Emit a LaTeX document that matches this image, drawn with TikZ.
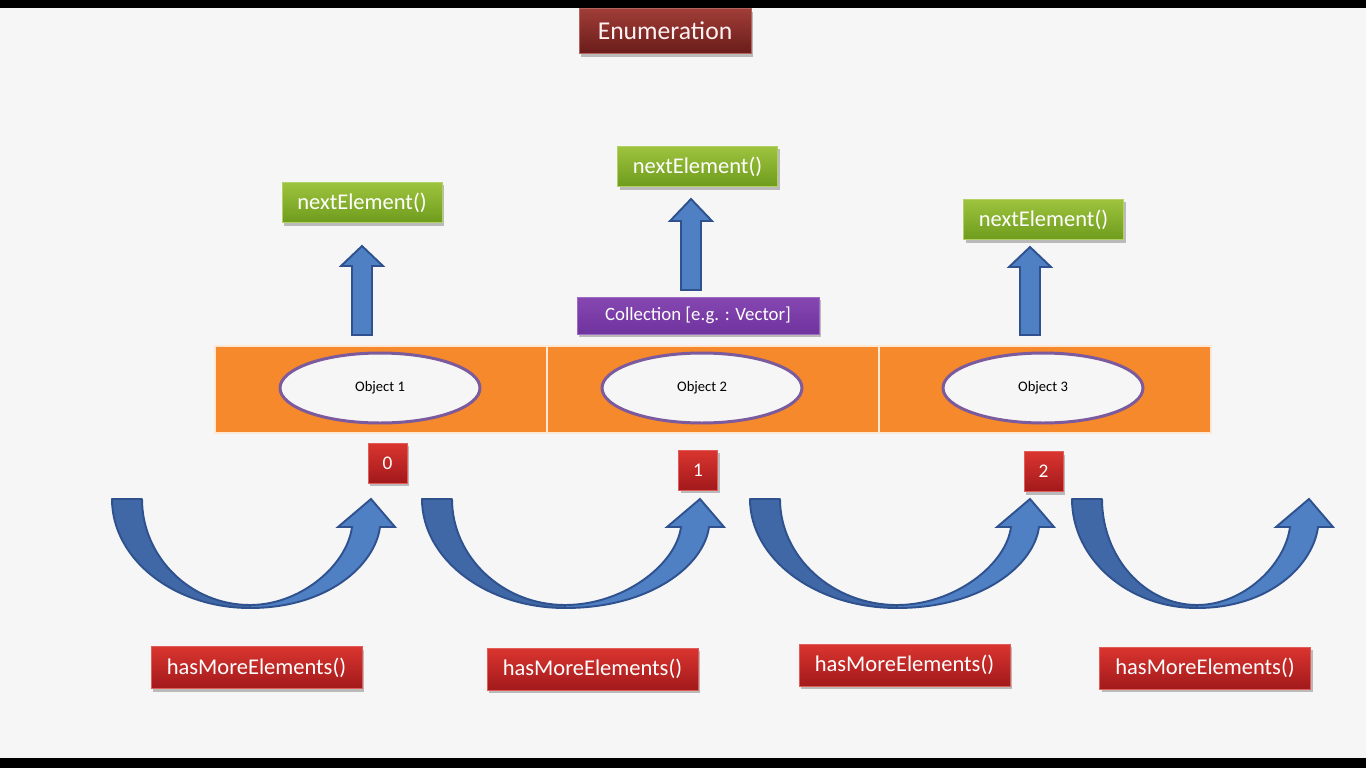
\documentclass[tikz,border=0pt]{standalone}
\usepackage{fontspec}
\setmainfont{Carlito}
\usetikzlibrary{shadows,shapes.geometric}
\definecolor{bgc}{HTML}{F6F6F6}
\definecolor{enumT}{HTML}{A03D37}
\definecolor{enumB}{HTML}{6A1C1A}
\definecolor{greenT}{HTML}{9EC43E}
\definecolor{greenB}{HTML}{6E9B1D}
\definecolor{redT}{HTML}{DA352F}
\definecolor{redB}{HTML}{A2191B}
\definecolor{purT}{HTML}{8647B1}
\definecolor{purB}{HTML}{6F339F}
\definecolor{orangeC}{HTML}{F6892B}
\definecolor{ellC}{HTML}{7B5A9E}
\definecolor{blueF}{HTML}{4F80C4}
\definecolor{blueD}{HTML}{4067A6}
\definecolor{blueL}{HTML}{2F528F}
\newcommand\blueCurve[3]{% tail-left x, bottom x, tip x
  \draw[carmback] (#1,499) -- ({#1+30},499)
    .. controls ({#1+30},557) and ({#2-0.552*(#2-#1-30)},605) .. (#2,605)
    -- (#2,608)
    .. controls ({#2-0.552*(#2-#1)},608) and (#1,559) .. (#1,499) -- cycle;
  \draw[carmfront] (#2,608)
    .. controls ({#2+0.6*(#3+9-#2)},608) and ({#3+4},565) .. ({#3+9},527)
    -- ({#3+24},527) -- (#3,499) -- ({#3-33},527) -- ({#3-19},527)
    .. controls ({#3-24},565) and ({#2+0.5*(#3-19-#2)},605) .. (#2,605) -- cycle;
}
\newcommand\blueUp[4]{% x, tip y, head base y, bottom y
  \draw[uparr] ({#1-10},#4) -- ({#1-10},#3) -- ({#1-21},#3) -- (#1,#2)
    -- ({#1+21},#3) -- ({#1+10},#3) -- ({#1+10},#4) -- cycle;
}
\begin{document}
\begin{tikzpicture}[x=0.02cm,y=-0.02cm,
  shadowed/.style={drop shadow={shadow xshift=1.2pt,shadow yshift=-1.8pt,opacity=0.35,fill=black!70}},
  boxbase/.style={rectangle,inner sep=0pt,shadowed,text=white},
  enumbox/.style={boxbase,top color=enumT,bottom color=enumB,draw=enumT!80!white,line width=0.4pt,
     minimum width=3.44cm,minimum height=0.9cm,text=white!95!red,font=\fontsize{14.6}{17}\selectfont},
  nextbox/.style={boxbase,top color=greenT,bottom color=greenB,draw=greenT!80!white,line width=0.4pt,
     minimum width=3.2cm,minimum height=0.81cm,font=\fontsize{12.8}{15}\selectfont},
  hasbox/.style={boxbase,top color=redT,bottom color=redB,draw=redT!80!white,line width=0.4pt,
     minimum width=4.22cm,minimum height=0.84cm,font=\fontsize{12.8}{15}\selectfont},
  idxbox/.style={boxbase,top color=redT,bottom color=redB,draw=redT!80!white,line width=0.4pt,
     minimum width=0.78cm,minimum height=0.8cm,font=\fontsize{11}{13}\selectfont},
  collbox/.style={boxbase,top color=purT,bottom color=purB,draw=purT!80!white,line width=0.4pt,
     minimum width=4.84cm,minimum height=0.74cm,font=\fontsize{10.7}{13}\selectfont},
  cell/.style={rectangle,fill=orangeC,draw=white!80!orangeC,line width=0.8pt,inner sep=0pt,
     minimum width=6.64cm,minimum height=1.74cm},
  objell/.style={ellipse,fill=bgc,draw=ellC,line width=1.7pt,inner sep=0pt,
     minimum width=4.0cm,minimum height=1.4cm,font=\fontsize{8.3}{10}\selectfont},
  uparr/.style={fill=blueF,draw=blueL,line width=1.1pt,line join=miter},
  carmback/.style={fill=blueD,draw=blueL,line width=1.1pt,line join=round},
  carmfront/.style={fill=blueF,draw=blueL,line width=1.1pt,line join=miter}]
\useasboundingbox (0,0) rectangle (1366,768);
\fill[bgc] (0,0) rectangle (1366,768);

% title
\node[enumbox] (enum) at (665,31) {Enumeration};
\fill[black] (0,0) rectangle (1366,8);

% orange bar with objects
\node[cell] (c1) at (381,389.5) {};
\node[cell] (c2) at (713,389.5) {};
\node[cell] (c3) at (1045,389.5) {};
\node[objell] (o1) at (380,388) {Object 1};
\node[objell] (o2) at (702,388) {Object 2};
\node[objell] (o3) at (1043,388) {Object 3};

% collection label
\node[collbox] (coll) at (698,315.5) {Collection [e.g. : Vector]};

% nextElement boxes
\node[nextbox] (n1) at (362,202.5) {nextElement()};
\node[nextbox] (n2) at (697.5,166.5) {nextElement()};
\node[nextbox] (n3) at (1043.5,219.5) {nextElement()};

% up arrows
\blueUp{362}{246}{266}{335}
\blueUp{691}{199}{221}{290}
\blueUp{1030}{247}{267}{335}

% index boxes
\node[idxbox] (i0) at (387.5,463) {0};
\node[idxbox] (i1) at (698,470) {1};
\node[idxbox] (i2) at (1043.5,471.5) {2};

% curved arrows
\blueCurve{112}{250}{371}
\blueCurve{422}{565}{700}
\blueCurve{750}{897}{1030}
\blueCurve{1072}{1197}{1309}

% hasMoreElements boxes
\node[hasbox] (h1) at (256.5,667.5) {hasMoreElements()};
\node[hasbox] (h2) at (592.5,669) {hasMoreElements()};
\node[hasbox] (h3) at (904.5,665) {hasMoreElements()};
\node[hasbox] (h4) at (1205,668) {hasMoreElements()};

\fill[black] (0,758) rectangle (1366,768);
\end{tikzpicture}
\end{document}
